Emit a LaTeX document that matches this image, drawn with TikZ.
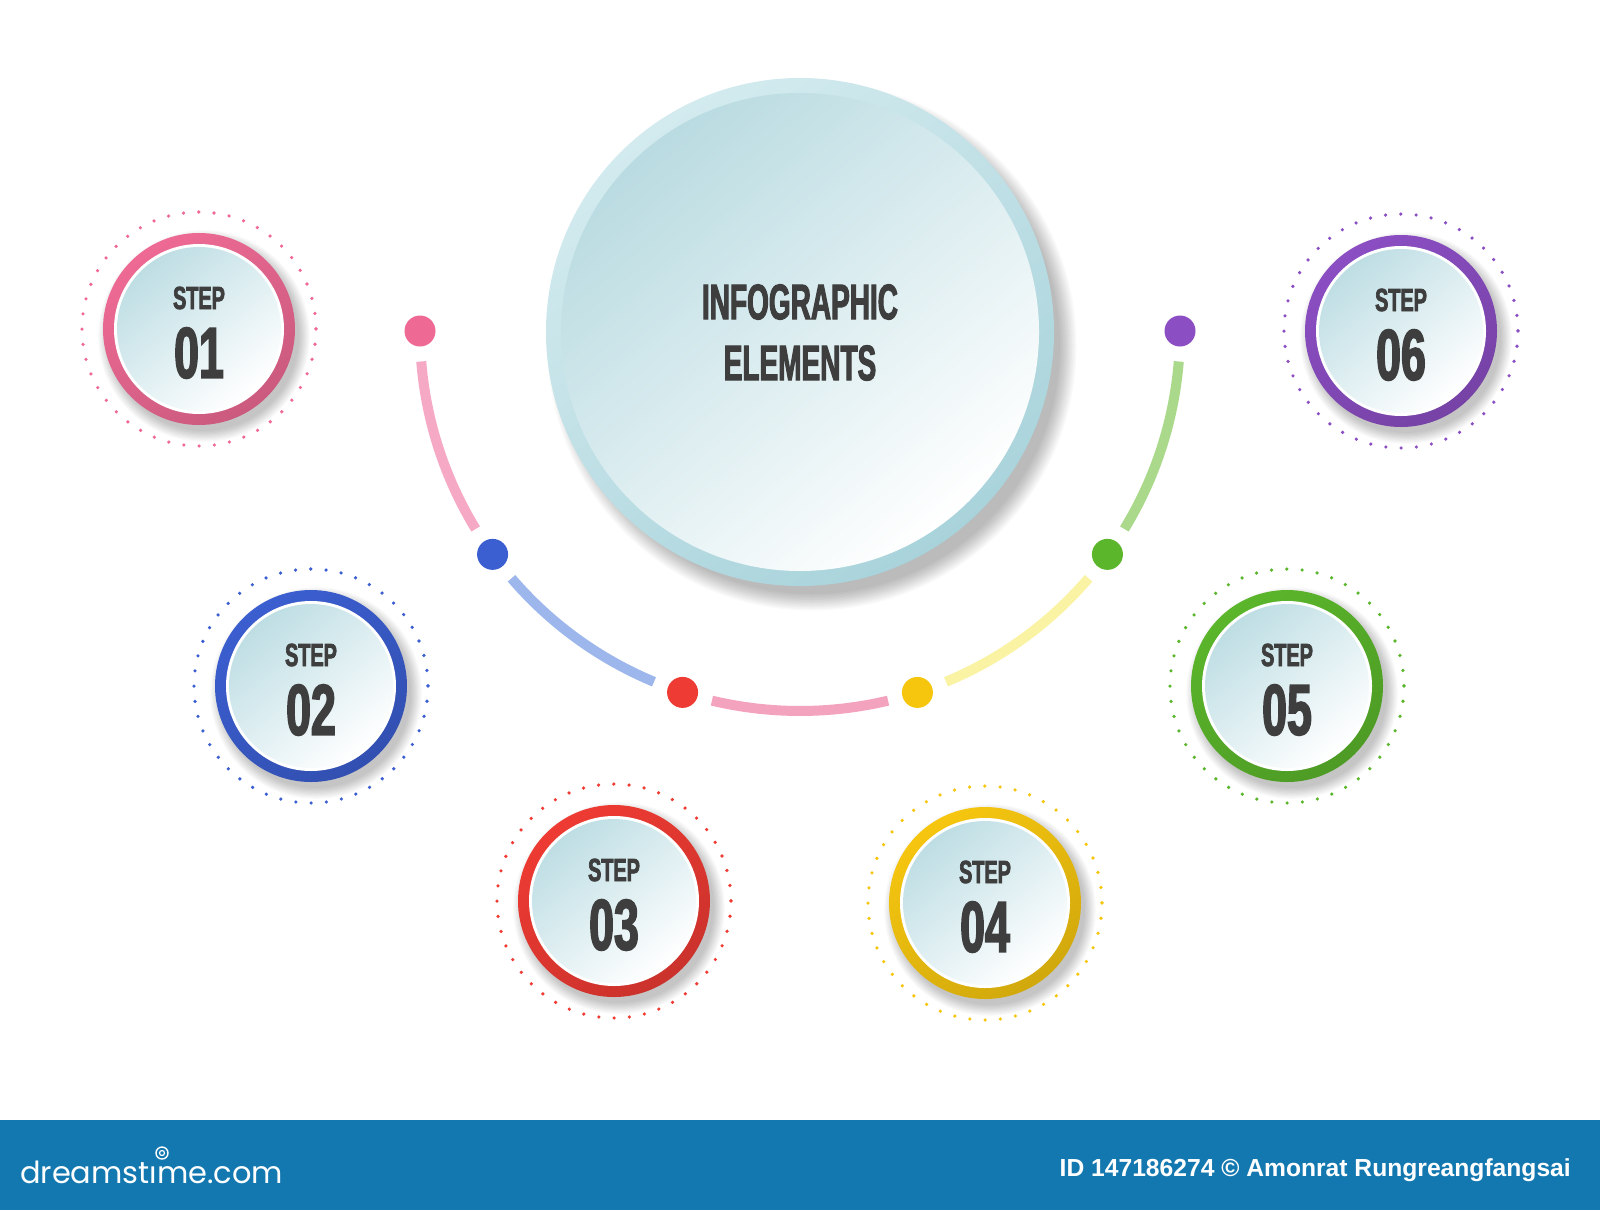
\documentclass[tikz,border=0pt]{standalone}
\usepackage{fontspec}
\setmainfont{Liberation Sans}
\newfontfamily\stepfont{Liberation Sans}[FakeStretch=0.62, FakeBold=2.2]
\newfontfamily\titlefont{Liberation Sans}[FakeStretch=0.56, FakeBold=2]
\newfontfamily\logofont{Poppins}
\definecolor{cpink}{HTML}{EE6A94}
\definecolor{cblue}{HTML}{3B5ED0}
\definecolor{cred}{HTML}{EE3B33}
\definecolor{cyellow}{HTML}{F6C60F}
\definecolor{cgreen}{HTML}{5BB62B}
\definecolor{cpurple}{HTML}{8B4EC3}
\definecolor{spink}{HTML}{F6A9C5}
\definecolor{sblue}{HTML}{9DB7EC}
\definecolor{sred}{HTML}{F4A3BE}
\definecolor{syellow}{HTML}{FAF3A3}
\definecolor{sgreen}{HTML}{ABD98C}
\definecolor{face}{HTML}{BEDEE4}
\definecolor{face2}{HTML}{B9DBE1}
\definecolor{bandlight}{HTML}{D3EBEF}
\definecolor{banddark}{HTML}{A9D3DB}
\definecolor{txt}{HTML}{3E3E3E}
\definecolor{bar}{HTML}{1378B0}
\tikzset{
  steptext/.style={inner sep=0, text=txt, font=\stepfont\bfseries\fontsize{32}{32}\selectfont},
  stepnum/.style={inner sep=0, text=txt, font=\stepfont\bfseries\fontsize{72}{72}\selectfont},
  titletext/.style={inner sep=0, text=txt, font=\titlefont\bfseries\fontsize{50}{50}\selectfont},
  arcdot/.style={circle, inner sep=0, minimum size=31pt},
  arcseg/.style={line width=10pt},
  dotring/.style={line width=3.6pt, line cap=round, dash pattern=on 0pt off 15.31pt},
}
\newcommand{\stepbadge}[4]{%
  \begin{scope}[shift={#2}]
    \foreach \k in {0,...,9}
      \fill[black, opacity=0.025] (5,7) circle[radius={95+\k*1.2}];
    \draw[#3, dotring] (0,0) circle[radius=117];
    \shade[top color=#3, bottom color=#3!85!black, shading angle=35] (0,0) circle[radius=96];
    \fill[white] (0,0) circle[radius=85];
    \shade[top color=face, bottom color=white, shading angle=40] (0,0) circle[radius=82];
    \node[steptext] (#1-label) at (0,-31) {STEP};
    \node[stepnum] (#1-num) at (0,24) {#4};
  \end{scope}}
\begin{document}
\begin{tikzpicture}[x=1pt,y=-1pt]
\fill[white] (0,0) rectangle (1600,1210);
\useasboundingbox (0,0) rectangle (1600,1210);
% central circle
\foreach \k in {0,...,11}
  \fill[black, opacity=0.022] (812,346) circle[radius={248+\k*1.5}];
\shade[top color=bandlight, bottom color=banddark, shading angle=35] (800,332) circle[radius=254];
\shade[top color=face2, bottom color=white, shading angle=40] (800,332) circle[radius=239];
\node[titletext] (title1) at (800,302) {INFOGRAPHIC};
\node[titletext] (title2) at (800,363) {ELEMENTS};
% arc
\coordinate (hub) at (800,331);
\foreach \a/\b/\c in {175.4/148.6/spink, 139.4/112.6/sblue, 103.4/76.6/sred, 67.4/40.6/syellow, 31.4/4.6/sgreen}
  \draw[arcseg, \c] (hub) ++(\a:380) arc[start angle=\a, end angle=\b, radius=380];
\foreach \ang/\col/\nm in {180/cpink/d1, 144/cblue/d2, 108/cred/d3, 72/cyellow/d4, 36/cgreen/d5, 0/cpurple/d6}
  \path (hub) ++(\ang:380) node[arcdot, fill=\col] (\nm) {};
% steps
\stepbadge{s1}{(199,329)}{cpink}{01}
\stepbadge{s2}{(311,686)}{cblue}{02}
\stepbadge{s3}{(614,901)}{cred}{03}
\stepbadge{s4}{(985,903)}{cyellow}{04}
\stepbadge{s5}{(1287,686)}{cgreen}{05}
\stepbadge{s6}{(1401,331)}{cpurple}{06}
% bottom bar
\fill[bar] (0,1120) rectangle (1600,1210);
\node[anchor=base west, text=white, inner sep=0] (logo) at (20,1183) {\resizebox{263pt}{!}{\logofont dreamstıme.com}};
\draw[white, line width=1.4pt] (162,1153) circle[radius=6];
\draw[white, line width=1.2pt] (162,1153) circle[radius=2.5];
\node[anchor=base east, text=white, inner sep=0] (credit) at (1571,1176) {\resizebox{511pt}{!}{\bfseries ID 147186274 © Amonrat Rungreangfangsai}};
\end{tikzpicture}
\end{document}
